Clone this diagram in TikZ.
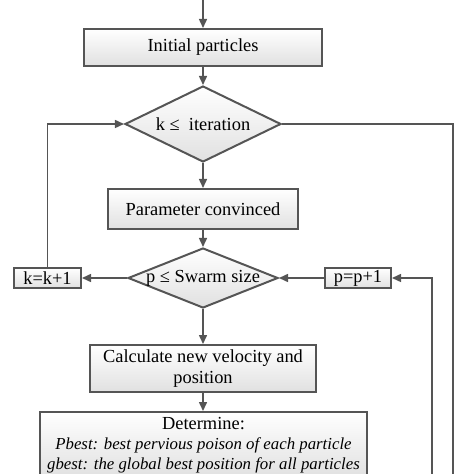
\documentclass[tikz,border=0pt]{standalone}
\usepackage{fontspec}
\setmainfont{Liberation Serif}
\usetikzlibrary{shapes.geometric,arrows.meta}
\definecolor{linegray}{HTML}{555555}
\tikzset{
  box/.style={draw=linegray,line width=1pt,rectangle,top color=white,bottom color=black!12,align=center,inner sep=1pt},
  decision/.style={draw=linegray,line width=1pt,diamond,top color=white,bottom color=black!12,inner sep=0pt,aspect=2},
}
\begin{document}
\begin{tikzpicture}[x=0.5pt,y=-0.5pt,font=\fontsize{9.2}{10.3}\selectfont]
      \path[use as bounding box,clip] (0,0) rectangle (474,474);
      \draw
        (203,0) coordinate (top)
        (203,47.5) node[box,minimum width=119pt,minimum height=18.5pt] (init){Initial particles}
        (203,124) node[decision,minimum width=78pt,minimum height=38pt] (kiter){k ≤\ \ iteration}
        (203,209) node[box,minimum width=95pt,minimum height=20pt] (param){Parameter convinced}
        (203,278) node[decision,inner xsep=-16pt,minimum width=75pt,minimum height=30pt] (pswarm){p ≤ Swarm size}
        (47.5,278) node[box,minimum width=33.5pt,minimum height=10pt] (kinc){k=k+1}
        (358,278) node[box,minimum width=33pt,minimum height=10pt] (pinc){p=p+1}
        (203,368.5) node[box,minimum width=113pt,minimum height=23.5pt] (calc){Calculate new velocity and\\position}
        (203.5,445) node[box,minimum width=163.5pt,minimum height=33pt,font=\fontsize{8.4}{10}\selectfont] (det){{\fontsize{9.2}{10}\selectfont Determine:}\\\textit{Pbest: best pervious poison of each particle}\\\textit{gbest: the global best position for all particles}}
        (432,474) coordinate (pbot)
        (453,474) coordinate (rbot);
      \begin{scope}[-{Triangle[length=4.5pt,width=4pt]},draw=linegray,line width=0.75pt]
        \draw (top) -- (init);
        \draw (init) -- (kiter);
        \draw (kiter) -- (param);
        \draw (param) -- (pswarm);
        \draw (pswarm) -- (kinc);
        \draw (pinc) -- (pswarm);
        \draw (pswarm) -- (calc);
        \draw (calc) -- (det.north -| calc);
        \draw (kinc) |- (kiter);
        \draw (pbot) |- (pinc);
        \draw[-] (kiter) -| (rbot);
      \end{scope}
    \end{tikzpicture}
\end{document}
